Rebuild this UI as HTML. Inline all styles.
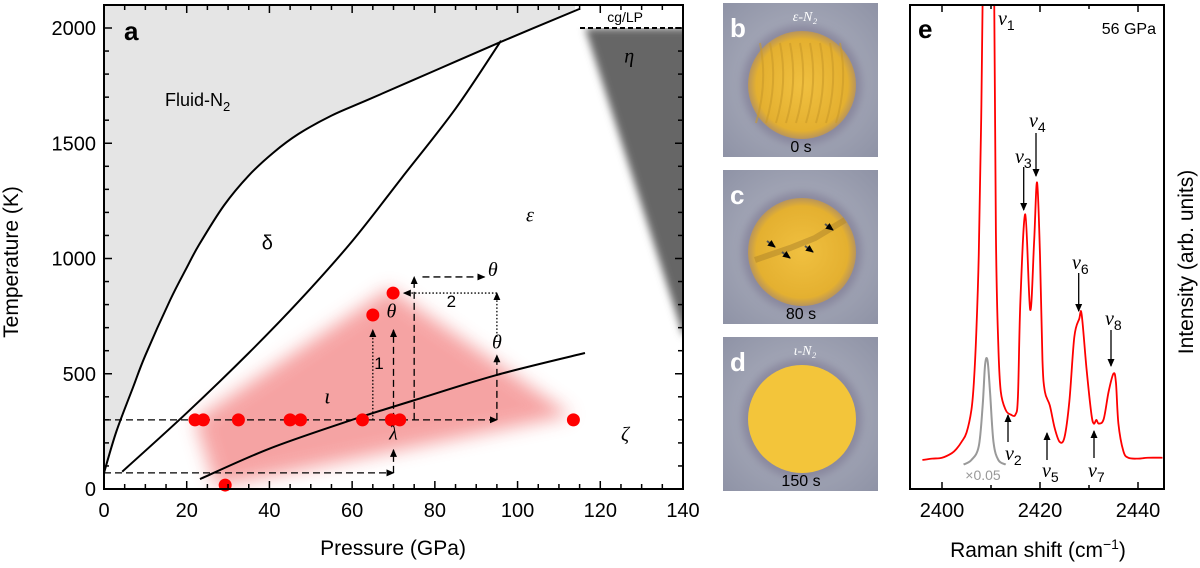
<!DOCTYPE html>
<html><head><meta charset="utf-8"><style>
body{margin:0;background:#fff;width:1200px;height:563px;overflow:hidden;font-family:"Liberation Sans",sans-serif}
svg text{font-family:"Liberation Sans",sans-serif}
.serif{font-family:"Liberation Serif",serif;font-style:italic}
</style></head><body>
<svg id="fig" width="1200" height="563" xmlns="http://www.w3.org/2000/svg">
<defs>
<filter id="blur8" x="-20%" y="-20%" width="140%" height="140%"><feGaussianBlur stdDeviation="9"/></filter>
<filter id="blur4" x="-20%" y="-20%" width="140%" height="140%"><feGaussianBlur stdDeviation="4"/></filter>
<marker id="ah" markerWidth="8" markerHeight="8" refX="7" refY="4" orient="auto" markerUnits="userSpaceOnUse"><path d="M0,0.5 L8,4 L0,7.5 z" fill="#000"/></marker>
<clipPath id="clipA"><rect x="104" y="5" width="579" height="484"/></clipPath>
<clipPath id="clipE"><rect x="910" y="5" width="254" height="484"/></clipPath>
<radialGradient id="yel" cx="50%" cy="50%" r="50%"><stop offset="0" stop-color="#f0c040"/><stop offset="0.85" stop-color="#e4b030"/><stop offset="1" stop-color="#b9955a"/></radialGradient>
<radialGradient id="bg" cx="50%" cy="50%" r="70%"><stop offset="0" stop-color="#b4b7c4"/><stop offset="1" stop-color="#8f93a6"/></radialGradient>
</defs>
<g id="panelA"></g>
<g id="photos"></g>
<g id="panelE"></g>
</svg>
<script>
const NS='http://www.w3.org/2000/svg';
// ---------- Panel a data ----------
const meltP=[0,3,7,10,16,20,23,29,35,41,47,55,64,80,96,115];
const meltT=[70,250,440,580,820,960,1060,1230,1360,1460,1540,1620,1690,1815,1940,2083];
const deltaEpsP=[4.4,20,35,47.4,60,72,85,96];
const deltaEpsT=[75,330,590,820,1075,1350,1650,1945];
const epsZetaP=[23.2,40,60,75,95,116.3];
const epsZetaT=[43,175,300,385,495,590];
const dotP=[22,24,32.5,45,47.5,62.5,69.5,71.5,113.5,29.3,65,69.9];
const dotT=[300,300,300,300,300,300,300,300,300,17,755,850];
const xTicksA=[0,20,40,60,80,100,120,140];
const yTicksA=[0,500,1000,1500,2000];
// ---------- Panel e data ----------
const shift=[2396,2398,2400,2402,2403,2404,2405,2406,2406.5,2407,2407.5,2408,2408.5,2409.5,2410.5,2411,2411.5,2412,2413,2414,2415,2415.5,2416,2417,2418,2418.8,2419.4,2420,2420.5,2421,2422,2423,2424,2425,2426,2427,2428,2428.5,2429.5,2430.5,2431,2431.5,2432,2433,2434,2435,2435.5,2436,2437,2438,2440,2442,2445];
const intensity=[0,0.3,0.5,1.5,2.5,4,6,11,17,28,45,75,120,200,120,50,25,15,11,10,10,14,35,54,33,48,61,45,22,15,12,7,4,5,13,27,31,32,20,10,8,8.8,8,9,15,19,17,8,2,0.5,0.3,0.5,0.5];
const grayShift=[2404.4,2406,2407.5,2408.3,2408.8,2409.3,2409.8,2410.5,2411.5,2413];
const grayInt=[-1,0,3,12,21,21.8,15,4,0,-1];
const xTicksE=[2400,2420,2440];

const xA=p=>104+p*(579/140), yA=t=>489-t*(461/2000);
const xE=s=>942+(s-2400)*4.9, yE=i=>460-i*4.55;

function el(tag,attrs,parent,txt){const e=document.createElementNS(NS,tag);for(const k in attrs)e.setAttribute(k,attrs[k]);if(txt!==undefined)e.textContent=txt;parent.appendChild(e);return e;}
function smooth(pts){let d=`M${pts[0][0]},${pts[0][1]}`;for(let i=0;i<pts.length-1;i++){const p0=pts[Math.max(0,i-1)],p1=pts[i],p2=pts[i+1],p3=pts[Math.min(pts.length-1,i+2)];d+=` C${p1[0]+(p2[0]-p0[0])/6},${p1[1]+(p2[1]-p0[1])/6} ${p2[0]-(p3[0]-p1[0])/6},${p2[1]-(p3[1]-p1[1])/6} ${p2[0]},${p2[1]}`;}return d;}

const A=document.getElementById('panelA');
const gA=el('g',{'clip-path':'url(#clipA)'},A);
const meltPts=meltP.map((p,i)=>[xA(p),yA(meltT[i])]);
let fluid=el('path',{d:smooth(meltPts)+` L${xA(115)},0 L104,0 Z`,fill:'#e5e5e5'},gA);


let eta=el('polygon',{points:`585,${yA(2000)} 700,${yA(2000)} 700,330 683,335`,fill:'#666',filter:'url(#blur4)'},gA);


el('rect',{x:575,y:5,width:110,height:yA(2000)-5,fill:'#fff'},gA);
let pink=el('polygon',{points:`${xA(22)},${yA(300)} ${xA(69)},${yA(870)} ${xA(113)},${yA(320)} ${xA(27)},${yA(10)}`,fill:'#f59a9a',opacity:'0.9',filter:'url(#blur8)'},gA);


[[meltP,meltT,'melting-curve'],[deltaEpsP,deltaEpsT,'delta-epsilon-boundary'],[epsZetaP,epsZetaT,'epsilon-zeta-boundary']].forEach(([P,T,n])=>{
 const c=el('path',{d:smooth(P.map((p,i)=>[xA(p),yA(T[i])])),fill:'none',stroke:'#000','stroke-width':2},gA);
 
 
});
el('line',{x1:580,y1:yA(2000),x2:683,y2:yA(2000),stroke:'#000','stroke-width':2,'stroke-dasharray':'5,3'},A);
const dash={stroke:'#000','stroke-width':1.3,'stroke-dasharray':'7,4',fill:'none','marker-end':'url(#ah)'};
const dot={stroke:'#000','stroke-width':1.3,'stroke-dasharray':'1.5,2',fill:'none','marker-end':'url(#ah)'};
const arrows=[[dash,0,300,95,300],[dash,0,70,70,70],[dash,70,70,70,170],[dash,70,300,70,690],[dot,65,300,65,690],[dash,75,300,75,920],[dash,77,920,92,920],[dash,95,300,95,580],[dot,95,660,95,850],[dot,95,850,72.5,850]];
arrows.forEach(a=>{const l=el('line',Object.assign({x1:xA(a[1]),y1:yA(a[2]),x2:xA(a[3]),y2:yA(a[4])},a[0]),A);});
dotP.forEach((p,i)=>{const c=el('circle',{cx:xA(p),cy:yA(dotT[i]),r:6.5,fill:'#f00'},A);});
const lab=[['δ',39.5,1040,'',20],['ε',103,1160,'serif',20],['ζ',126,210,'serif',20],['η',127,1850,'serif',20],['ι',54,370,'serif',22],['θ',69.5,745,'serif',20],['θ',94,925,'serif',20],['θ',95,610,'serif',20],['λ',70,215,'serif',20],['1',66.5,520,'',17],['2',84,790,'',17]];
lab.forEach(l=>{const t=el('text',{x:xA(l[1]),y:yA(l[2]),'font-size':l[4],'text-anchor':'middle',class:l[3]},A,l[0]);});
let fl=el('text',{x:165,y:106,'font-size':18},A);fl.innerHTML='Fluid-N<tspan dy="5" font-size="13">2</tspan>';

el('text',{x:xA(126),y:22,'font-size':14,'text-anchor':'middle'},A,'cg/LP');
el('text',{x:124,y:40,'font-size':26,'font-weight':'bold'},A,'a');
el('rect',{x:104,y:5,width:579,height:484,fill:'none',stroke:'#000','stroke-width':2},A);
for(let p=0;p<=140;p+=5){const L=p%20===0?8:5;el('line',{x1:xA(p),y1:489,x2:xA(p),y2:489-L,stroke:'#000','stroke-width':1.5},A);el('line',{x1:xA(p),y1:5,x2:xA(p),y2:5+L,stroke:'#000','stroke-width':1.5},A);}
for(let t=0;t<=2100;t+=100){const L=t%500===0?8:5;el('line',{x1:104,y1:yA(t),x2:104+L,y2:yA(t),stroke:'#000','stroke-width':1.5},A);el('line',{x1:683,y1:yA(t),x2:683-L,y2:yA(t),stroke:'#000','stroke-width':1.5},A);}
xTicksA.forEach(v=>{const t=el('text',{x:xA(v),y:517,'font-size':20,'text-anchor':'middle'},A,v);});
yTicksA.forEach(v=>{const t=el('text',{x:96,y:yA(v)+7,'font-size':20,'text-anchor':'end'},A,v);});
let xt=el('text',{x:393,y:555,'font-size':21,'text-anchor':'middle'},A,'Pressure (GPa)');
let yt=el('text',{x:0,y:0,'font-size':21,'text-anchor':'middle',transform:'translate(18,262) rotate(-90)'},A,'Temperature (K)');

// ---------- photos ----------
const PH=document.getElementById('photos');
[['b',3,'ε-N₂','0 s',false],['c',170,'','80 s',true],['d',337,'ι-N₂','150 s',false]].forEach(([k,y0,top,time,cr])=>{
 const g=el('g',{},PH);
 el('rect',{x:723,y:y0,width:155,height:154,fill:'url(#bg)'},g);
 el('circle',{cx:802,cy:y0+82,r:60,fill:'#7a7690',opacity:0.6,filter:'url(#blur4)'},g);
 el('circle',{cx:802,cy:y0+82,r:54,fill:k==='d'?'#f3c53a':'url(#yel)'},g);
 if(k==='b'){for(let i=0;i<9;i++)el('path',{d:`M${760+i*10},${y0+40} q8,40 -4,80`,stroke:'#c99a2a','stroke-width':2,fill:'none',opacity:0.6},g);}
 if(cr){el('path',{d:`M755,${y0+90} L790,${y0+78} L815,${y0+68} L845,${y0+50}`,stroke:'#b58a2c','stroke-width':6,fill:'none',opacity:0.6},g);
  [[775,y0+77],[790,y0+88],[813,y0+82],[833,y0+60]].forEach(p=>el('path',{d:`M${p[0]-8},${p[1]-6} L${p[0]},${p[1]}`,stroke:'#555','stroke-width':2,'marker-end':'url(#ah)'},g));}
 el('text',{x:730,y:y0+34,'font-size':26,'font-weight':'bold',fill:'#fff'},g,k);
 if(top)el('text',{x:805,y:y0+18,'font-size':14,fill:'#fff','text-anchor':'middle',class:'serif'},g,top);
 el('text',{x:801,y:y0+149,'font-size':16,'text-anchor':'middle'},g,time);
});

// ---------- Panel e ----------
const E=document.getElementById('panelE');
const gE=el('g',{'clip-path':'url(#clipE)'},E);
let gr=el('path',{d:smooth(grayShift.map((s,i)=>[xE(s),yE(grayInt[i])])),fill:'none',stroke:'#999','stroke-width':2},gE);

let sp=el('path',{d:smooth(shift.map((s,i)=>[xE(s),yE(intensity[i])])),fill:'none',stroke:'#f00','stroke-width':1.8},gE);

el('rect',{x:910,y:5,width:254,height:484,fill:'none',stroke:'#000','stroke-width':2},E);
for(let s=2400;s<=2440;s+=10){const L=s%20===0?7:4;el('line',{x1:xE(s),y1:489,x2:xE(s),y2:489-L,stroke:'#000','stroke-width':1.5},E);el('line',{x1:xE(s),y1:5,x2:xE(s),y2:5+L,stroke:'#000','stroke-width':1.5},E);}
xTicksE.forEach(v=>{const t=el('text',{x:xE(v),y:517,'font-size':20,'text-anchor':'middle'},E,v);});
let xe=el('text',{x:1038,y:557,'font-size':21,'text-anchor':'middle'},E);
xe.innerHTML='Raman shift (cm<tspan dy="-8" font-size="14">−1</tspan><tspan dy="8">)</tspan>';
let ye=el('text',{x:0,y:0,'font-size':21,'text-anchor':'middle',transform:'translate(1193,262) rotate(-90)'},E,'Intensity (arb. units)');
el('text',{x:918,y:38,'font-size':26,'font-weight':'bold'},E,'e');
el('text',{x:1156,y:34,'font-size':16,'text-anchor':'end'},E,'56 GPa');
el('text',{x:983,y:480,'font-size':14,fill:'#999','text-anchor':'middle'},E,'×0.05');
// [name, arrowX, arrowTop, arrowBottom, dir, labelX, labelBaseline]
const peaks=[['1',null,0,0,'',998,25],['3',1023.7,167,210,'down',1015,163],['4',1036,133,176,'down',1029,127],['6',1078.7,273,311,'down',1072,269],['8',1111,330,366,'down',1105,325],['2',1008,415,442,'up',1005,460],['5',1047,433,460,'up',1042,477],['7',1094,431,458,'up',1088,477]];
peaks.forEach(p=>{
 if(p[4]==='down')el('line',{x1:p[1],y1:p[2],x2:p[1],y2:p[3],stroke:'#000','stroke-width':1.3,'marker-end':'url(#ah)'},E);
 if(p[4]==='up')el('line',{x1:p[1],y1:p[3],x2:p[1],y2:p[2],stroke:'#000','stroke-width':1.3,'marker-end':'url(#ah)'},E);
 const t=el('text',{x:p[5],y:p[6],'font-size':20},E);
 
 
 t.innerHTML='<tspan class="serif">v</tspan><tspan dy="5" font-size="14">'+p[0]+'</tspan>';
});
</script>
</body></html>
